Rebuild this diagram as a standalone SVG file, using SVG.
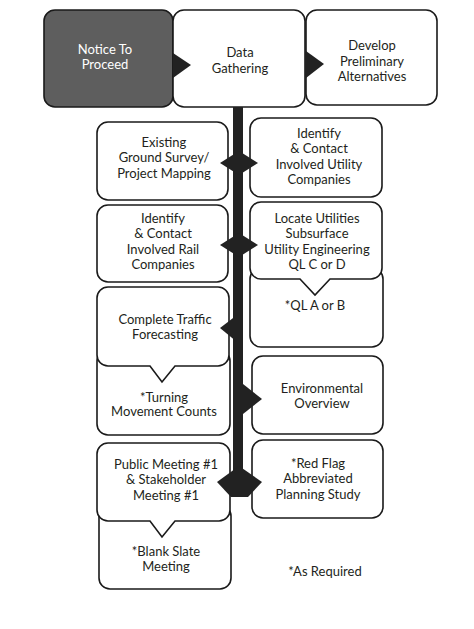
<svg xmlns="http://www.w3.org/2000/svg" width="474" height="629" viewBox="0 0 474 629">
<style>
.box{fill:#fff;stroke:#1a1a1a;stroke-width:1.6}
.dark{fill:#5e5e5e;stroke:#1a1a1a;stroke-width:1.6}
.t{font-family:Lato,"Noto Sans",sans-serif;font-size:13px;fill:#231f20;text-anchor:middle}
.w{fill:#fff}
.c{fill:#222}
</style>
<rect width="474" height="629" fill="#fff"/>
<g id="n-ntp"><rect class="dark" x="44" y="10" width="129" height="97" rx="11"/>
<text class="t w" x="105" y="53.5">Notice To</text><text class="t w" x="105" y="69">Proceed</text></g>
<g id="n-data"><rect class="box" x="173" y="10" width="132" height="97" rx="11"/>
<text class="t" x="240" y="57">Data</text><text class="t" x="240" y="72.5">Gathering</text></g>
<g id="n-dev"><rect class="box" x="306" y="10" width="131" height="95" rx="11"/>
<text class="t" x="372" y="50">Develop</text><text class="t" x="372" y="65.5">Preliminary</text><text class="t" x="372" y="81">Alternatives</text></g>
<g id="n-survey"><rect class="box" x="97" y="122" width="131" height="78" rx="11"/>
<text class="t" x="164" y="146.5">Existing</text><text class="t" x="164" y="162">Ground Survey/</text><text class="t" x="164" y="177.5">Project Mapping</text></g>
<g id="n-rail"><rect class="box" x="97" y="205" width="131" height="77" rx="11"/>
<text class="t" x="163" y="222.5">Identify</text><text class="t" x="163" y="238">&amp; Contact</text><text class="t" x="163" y="253.5">Involved Rail</text><text class="t" x="163" y="269">Companies</text></g>
<g id="n-turning"><rect class="box" x="97" y="350" width="133" height="85" rx="11"/>
<text class="t" x="164" y="401.5">*Turning</text><text class="t" x="164" y="416">Movement Counts</text></g>
<g id="n-traffic"><path class="box" d="M108,287 H218 A11,11 0 0 1 229,298 V355 A11,11 0 0 1 218,366 H175 L162,382 L150,366 H108 A11,11 0 0 1 97,355 V298 A11,11 0 0 1 108,287 Z"/>
<text class="t" x="165" y="323.5">Complete Traffic</text><text class="t" x="165" y="339">Forecasting</text></g>
<g id="n-blank"><rect class="box" x="99" y="505" width="132" height="84" rx="11"/>
<text class="t" x="166" y="555.5">*Blank Slate</text><text class="t" x="166" y="571">Meeting</text></g>
<g id="n-public"><path class="box" d="M108,443 H219 A11,11 0 0 1 230,454 V510 A11,11 0 0 1 219,521 H175 L162,537 L150,521 H108 A11,11 0 0 1 97,510 V454 A11,11 0 0 1 108,443 Z"/>
<text class="t" x="166" y="468.5">Public Meeting #1</text><text class="t" x="166" y="484">&amp; Stakeholder</text><text class="t" x="166" y="499.5">Meeting #1</text></g>
<g id="n-utility"><rect class="box" x="250" y="118" width="132" height="79" rx="11"/>
<text class="t" x="319" y="137.5">Identify</text><text class="t" x="319" y="153">&amp; Contact</text><text class="t" x="319" y="168.5">Involved Utility</text><text class="t" x="319" y="184">Companies</text></g>
<g id="n-qlab"><rect class="box" x="250" y="268" width="133" height="79" rx="11"/>
<text class="t" x="315" y="309.5">*QL A or B</text></g>
<g id="n-locate"><path class="box" d="M261,202 H371 A11,11 0 0 1 382,213 V268 A11,11 0 0 1 371,279 H330 L315,295 L300,279 H261 A11,11 0 0 1 250,268 V213 A11,11 0 0 1 261,202 Z"/>
<text class="t" x="317" y="222.5">Locate Utilities</text><text class="t" x="317" y="238">Subsurface</text><text class="t" x="317" y="253.5">Utility Engineering</text><text class="t" x="317" y="269">QL C or D</text></g>
<g id="n-env"><rect class="box" x="252" y="356" width="131" height="78" rx="11"/>
<text class="t" x="322" y="392.5">Environmental</text><text class="t" x="322" y="408">Overview</text></g>
<g id="n-redflag"><rect class="box" x="252" y="440" width="131" height="78" rx="11"/>
<text class="t" x="318" y="467.5">*Red Flag</text><text class="t" x="318" y="483">Abbreviated</text><text class="t" x="318" y="498.5">Planning Study</text></g>
<text class="t" x="325" y="575.5">*As Required</text>
<g id="connectors">
<rect class="c" x="233" y="107" width="10" height="390"/>
<polygon class="c" points="173,53 191,65 173,78"/>
<polygon class="c" points="306,51 324,64 306,78"/>
<polygon class="c" points="220,163 239,151 258,163 239,175"/>
<polygon class="c" points="220,245 239,233 258,245 239,257"/>
<polygon class="c" points="237,315 220,328 237,342"/>
<polygon class="c" points="243,384 262,399 243,414"/>
<polygon class="c" points="217,482 239,466 262,482 248,497 231,497"/>
</g>
</svg>
